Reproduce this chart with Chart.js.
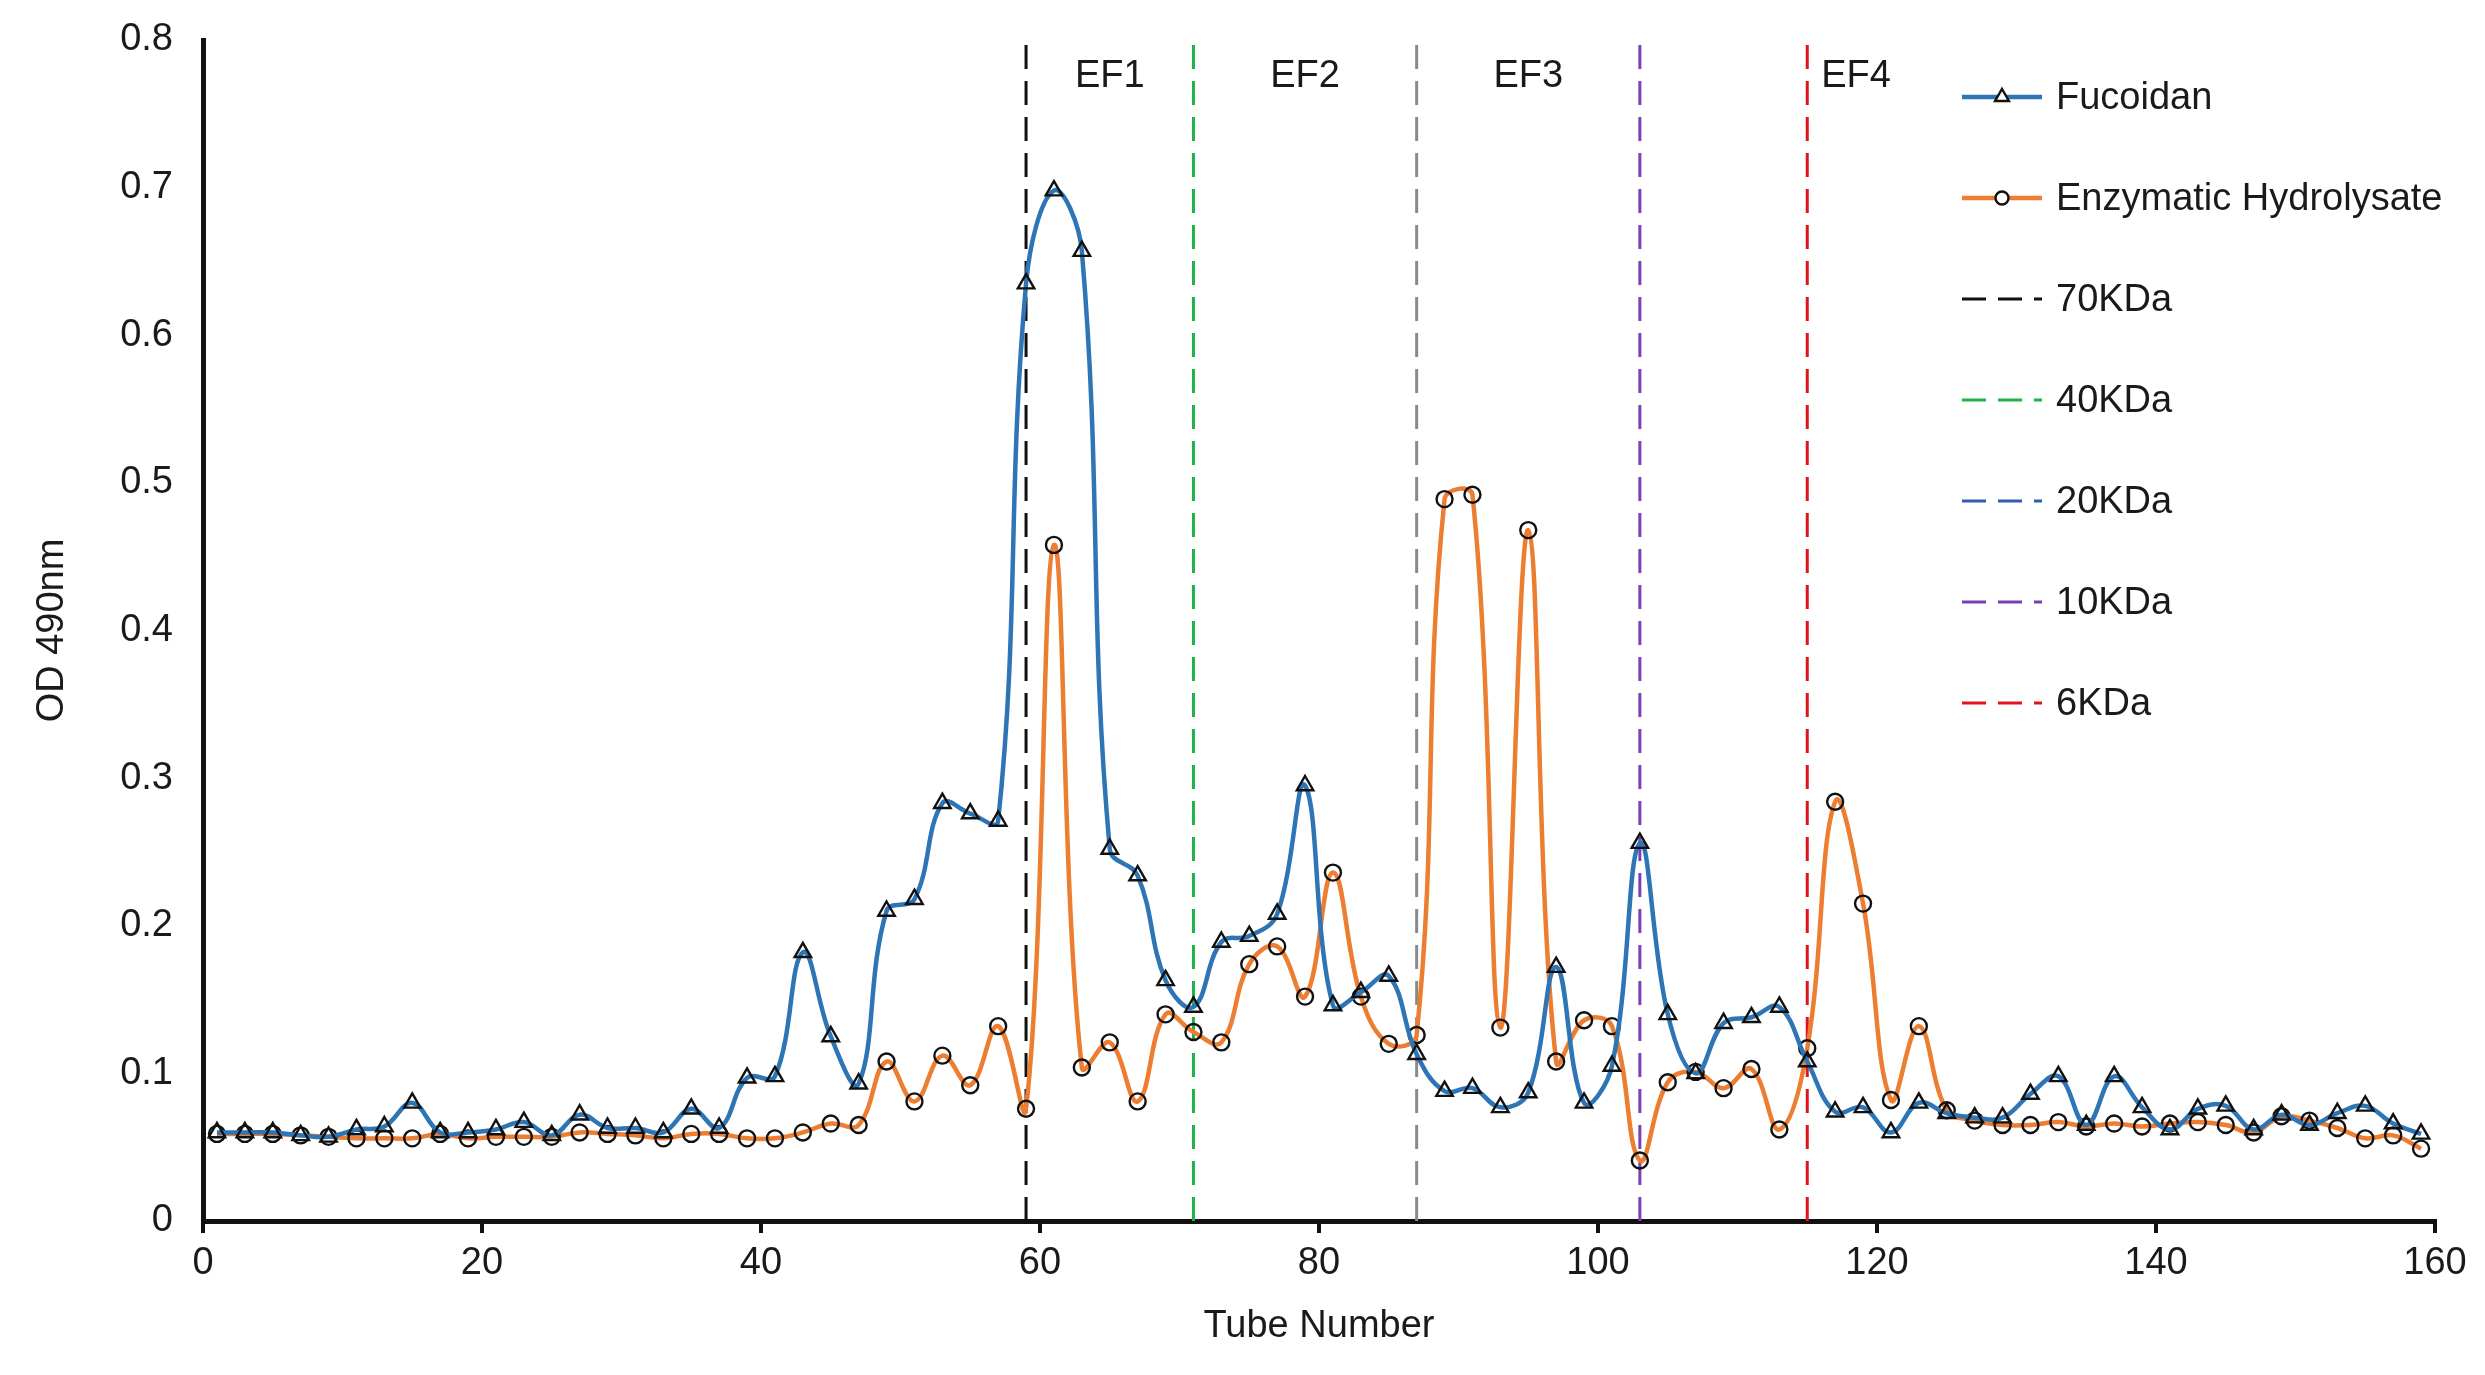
<!DOCTYPE html>
<html lang="en">
<head>
  <meta charset="UTF-8">
  <title>Fucoidan elution profile</title>
  <style>
    html, body { margin: 0; padding: 0; background: #fff; }
    #wrap { width: 2485px; height: 1375px; }
  </style>
</head>
<body>
  <div id="wrap"><canvas id="chart"></canvas></div>
  <script src="https://cdn.jsdelivr.net/npm/chart.js"></script>
  <script>
    // tube numbers (odd tubes sampled)
    var tubes = [1, 3, 5, 7, 9, 11, 13, 15, 17, 19, 21, 23, 25, 27, 29, 31, 33, 35, 37, 39,
      41, 43, 45, 47, 49, 51, 53, 55, 57, 59, 61, 63, 65, 67, 69, 71, 73, 75, 77, 79,
      81, 83, 85, 87, 89, 91, 93, 95, 97, 99, 101, 103, 105, 107, 109, 111, 113, 115, 117, 119,
      121, 123, 125, 127, 129, 131, 133, 135, 137, 139, 141, 143, 145, 147, 149, 151, 153, 155, 157, 159];

    var fucoidan = [0.060, 0.060, 0.060, 0.058, 0.057, 0.062, 0.064, 0.080, 0.060, 0.060,
      0.062, 0.067, 0.058, 0.072, 0.063, 0.063, 0.060, 0.076, 0.063, 0.097,
      0.098, 0.182, 0.125, 0.093, 0.210, 0.218, 0.283, 0.276, 0.271, 0.635,
      0.698, 0.657, 0.252, 0.234, 0.163, 0.145, 0.189, 0.193, 0.208, 0.295,
      0.146, 0.155, 0.166, 0.113, 0.088, 0.090, 0.077, 0.087, 0.172, 0.080,
      0.105, 0.256, 0.140, 0.100, 0.134, 0.138, 0.145, 0.108, 0.074, 0.077,
      0.060, 0.080, 0.073, 0.070, 0.070, 0.086, 0.098, 0.065, 0.098, 0.077,
      0.062, 0.076, 0.078, 0.062, 0.072, 0.065, 0.073, 0.078, 0.066, 0.059];

    var hydrolysate = [0.059, 0.059, 0.059, 0.058, 0.057, 0.056, 0.056, 0.056, 0.059, 0.056,
      0.057, 0.057, 0.057, 0.060, 0.059, 0.058, 0.056, 0.059, 0.059, 0.056,
      0.056, 0.060, 0.066, 0.065, 0.108, 0.081, 0.112, 0.092, 0.132, 0.076,
      0.458, 0.104, 0.121, 0.081, 0.140, 0.128, 0.121, 0.174, 0.186, 0.152,
      0.236, 0.152, 0.120, 0.126, 0.489, 0.492, 0.131, 0.468, 0.108, 0.136,
      0.132, 0.041, 0.094, 0.101, 0.090, 0.103, 0.062, 0.117, 0.284, 0.215,
      0.082, 0.132, 0.075, 0.068, 0.065, 0.065, 0.067, 0.064, 0.066, 0.064,
      0.066, 0.067, 0.065, 0.060, 0.071, 0.068, 0.063, 0.056, 0.058, 0.049];

    // molecular weight cut-off markers
    var cutoffLabels = ['70KDa', '40KDa', '20KDa', '10KDa', '6KDa'];
    var cutoffTubes = [59, 71, 87, 103, 115];
    var cutoffColors = ['#111111', '#1db34a', '#8a8a8a', '#7b3fb5', '#e0141e'];
    var cutoffLegendColors = ['#111111', '#1db34a', '#2f5fa8', '#7b3fb5', '#e0141e'];

    // fraction labels
    var efLabels = ['EF1', 'EF2', 'EF3', 'EF4'];
    var efTubes = [65, 79, 95, 118.5];

    var FONT = "'Liberation Sans', Arial, sans-serif";
    var TEXT = '#1a1a1a';
    var FS = 38;

    function pts(ys) {
      return tubes.map(function (t, i) { return { x: t, y: ys[i] }; });
    }

    var datasets = [
      {
        label: 'Fucoidan', data: pts(fucoidan),
        borderColor: '#2e75b6', borderWidth: 4.5, tension: 0.4,
        pointStyle: 'triangle', pointRadius: 9.5, pointBorderWidth: 2.4,
        pointBorderColor: '#111', pointBackgroundColor: 'rgba(255,255,255,0)'
      },
      {
        label: 'Enzymatic Hydrolysate', data: pts(hydrolysate),
        borderColor: '#ed7d31', borderWidth: 4.5, tension: 0.4,
        pointStyle: 'circle', pointRadius: 8, pointBorderWidth: 2.4,
        pointBorderColor: '#111', pointBackgroundColor: 'rgba(255,255,255,0)'
      }
    ];
    cutoffTubes.forEach(function (t, i) {
      datasets.push({
        label: cutoffLabels[i],
        data: [{ x: t, y: 0 }, { x: t, y: 0.8 }],
        borderColor: cutoffColors[i], borderWidth: 3, borderDash: [24, 12],
        pointRadius: 0, tension: 0
      });
    });

    // EF labels + legend drawn over the plot, like the original figure
    var overlay = {
      id: 'overlay',
      afterDraw: function (chart) {
        var ctx = chart.ctx;
        var xs = chart.scales.x, ys = chart.scales.y;
        ctx.save();
        ctx.fillStyle = TEXT;
        ctx.font = FS + 'px ' + FONT;
        ctx.textAlign = 'center';
        ctx.textBaseline = 'middle';
        efLabels.forEach(function (l, i) {
          ctx.fillText(l, xs.getPixelForValue(efTubes[i]), ys.getPixelForValue(0.775));
        });

        var x0 = 1962, y0 = 97, step = 101, w = 80;
        chart.data.datasets.forEach(function (ds, i) {
          var y = y0 + i * step;
          ctx.save();
          ctx.lineWidth = ds.borderWidth;
          ctx.strokeStyle = i < 2 ? ds.borderColor : cutoffLegendColors[i - 2];
          ctx.setLineDash(ds.borderDash || []);
          ctx.beginPath();
          ctx.moveTo(x0, y);
          ctx.lineTo(x0 + w, y);
          ctx.stroke();
          ctx.restore();
          if (i < 2) {
            ctx.save();
            ctx.fillStyle = '#ffffff';
            ctx.strokeStyle = '#111';
            ctx.lineWidth = ds.pointBorderWidth;
            Chart.helpers.drawPoint(ctx, {
              pointStyle: ds.pointStyle, radius: ds.pointRadius - 1.5, borderWidth: ds.pointBorderWidth
            }, x0 + w / 2, y);
            ctx.restore();
          }
          ctx.fillStyle = TEXT;
          ctx.textAlign = 'left';
          ctx.fillText(ds.label, x0 + w + 14, y + 2);
        });
        ctx.restore();
      }
    };

    Chart.defaults.font.family = FONT;
    Chart.defaults.color = TEXT;

    new Chart(document.getElementById('chart'), {
      type: 'line',
      data: { datasets: datasets },
      options: {
        responsive: true,
        maintainAspectRatio: false,
        devicePixelRatio: 1,
        animation: false,
        layout: { padding: { top: 40, right: 50, left: 26, bottom: 22 } },
        plugins: {
          legend: { display: false },
          tooltip: { enabled: false }
        },
        scales: {
          x: {
            type: 'linear', min: 0, max: 160,
            ticks: { stepSize: 20, padding: 8, font: { size: FS }, color: TEXT, maxRotation: 0 },
            grid: { drawOnChartArea: false, drawTicks: true, tickLength: 12, color: '#111', lineWidth: 4 },
            border: { display: true, color: '#111', width: 5 },
            title: { display: true, text: 'Tube Number', font: { size: FS }, color: TEXT, padding: { top: 4 } },
            afterFit: function (s) { s.height = 132; }
          },
          y: {
            min: 0, max: 0.8,
            ticks: {
              stepSize: 0.1, padding: 30, font: { size: FS }, color: TEXT,
              callback: function (v) { return +v.toFixed(1); }
            },
            grid: { drawOnChartArea: false, drawTicks: false },
            border: { display: true, color: '#111', width: 5 },
            title: { display: true, text: 'OD 490nm', font: { size: FS }, color: TEXT },
            afterFit: function (s) { s.width = 177; s.paddingTop = 0; s.paddingBottom = 0; }
          }
        }
      },
      plugins: [overlay]
    });
  </script>
</body>
</html>
